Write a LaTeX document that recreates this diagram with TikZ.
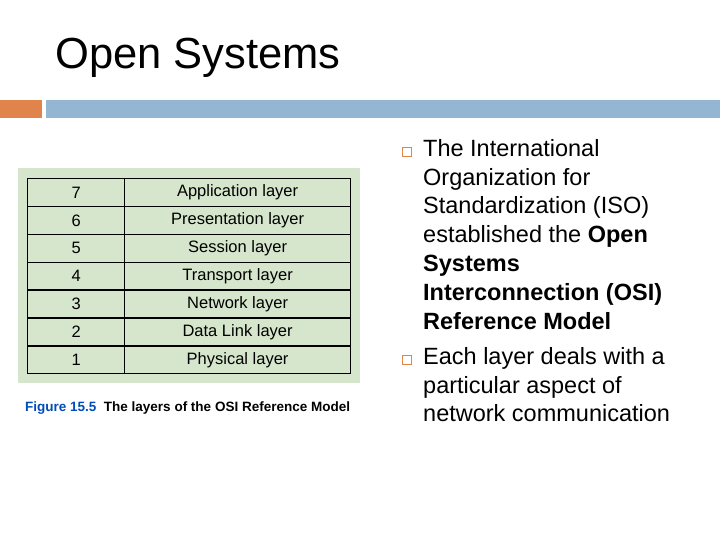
\documentclass[tikz,border=0pt]{standalone}
\usepackage{fontspec}
\setmainfont{Liberation Sans}
\definecolor{orng}{HTML}{E0844B}
\definecolor{blu}{HTML}{94B6D2}
\definecolor{grn}{HTML}{D6E6CC}
\begin{document}
\begin{tikzpicture}[x=1pt,y=-1pt,
  cell/.style={draw=black,line width=1.2pt,minimum height=28pt,inner sep=0pt,font=\fontsize{16.5}{18}\selectfont},
  btext/.style={anchor=north west,align=left,font=\fontsize{23.5}{28.8}\selectfont,inner sep=0pt},
  bul/.style={draw=orng,line width=1.1pt,minimum size=9pt,inner sep=0pt}]
\useasboundingbox (0,0) rectangle (720,540);
\node[anchor=west,font=\fontsize{43.5}{48}\selectfont,inner sep=0pt] (title) at (55,58) {Open Systems};
\fill[orng] (0,100) rectangle (42,118);
\fill[blu] (46,100) rectangle (720,118);
\fill[grn] (18,168) rectangle (360,383);
\foreach \n/\t [count=\i from 0] in {7/Application layer,6/Presentation layer,5/Session layer,4/Transport layer,3/Network layer,2/Data Link layer,1/Physical layer}{
  \node[cell,minimum width=97pt,anchor=north west] (n\n) at (27,178+\i*27.86) {\n};
  \node[cell,minimum width=226pt,anchor=north west] (t\n) at (124,178+\i*27.86) {\t};
}
\node[anchor=west,font=\fontsize{13.5}{15}\selectfont\bfseries,inner sep=0pt] (cap) at (25,408) {\textcolor{blue!60!black!70!cyan}{Figure 15.5}\ \ The layers of the OSI Reference Model};
\node[bul] (b1) at (407,152) {};
\node[bul] (b2) at (407,360) {};
\node[btext] (tx1) at (423,139) {The International\\Organization for\\Standardization (ISO)\\established the \textbf{Open}\\\textbf{Systems}\\\textbf{Interconnection (OSI)}\\\textbf{Reference Model}};
\node[btext] (tx2) at (423,347) {Each layer deals with a\\particular aspect of\\network communication};
\end{tikzpicture}
\end{document}
